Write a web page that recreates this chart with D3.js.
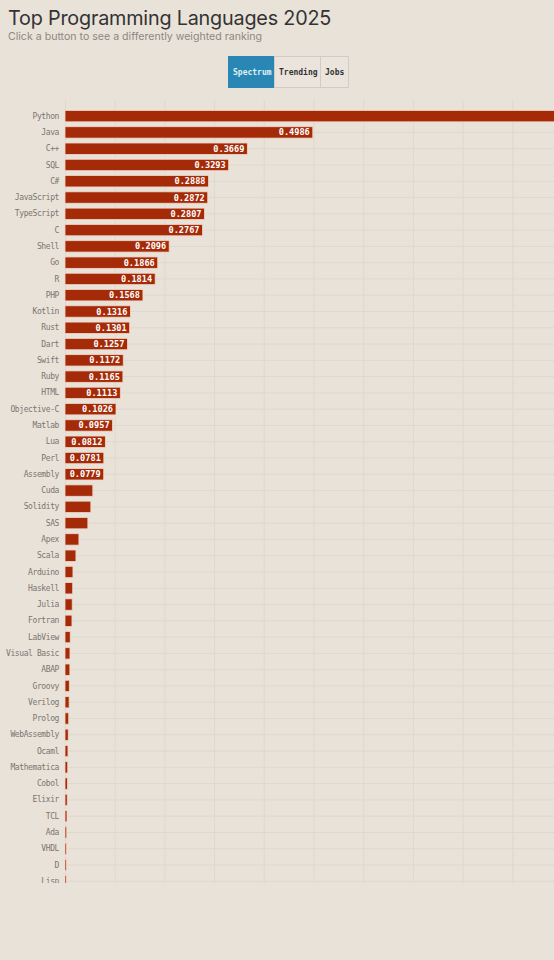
<!DOCTYPE html>
<html lang="en">
<head>
  <meta charset="utf-8"/>
  <title>Top Programming Languages 2025</title>
  <script src="https://cdn.jsdelivr.net/npm/d3@7/dist/d3.min.js"></script>
  <style>
    html, body {
      margin:0; padding:0;
      width:100%; height:100%;
      overflow:hidden;
      background:#e9e2d9;
      font-family:Inter, "Noto Sans", sans-serif;
    }
    h1 {
      position:absolute; left:8px; top:6px;
      margin:0;
      font:400 19.8px Inter, sans-serif;
      color:#333;
      letter-spacing:-0.2px;
    }
    .sub {
      position:absolute; left:8px; top:30px;
      font:400 10.6px Inter, sans-serif;
      color:#8c8782;
    }
    .buttons {
      position:absolute; left:228px; top:56px;
      display:flex;
    }
    .buttons button {
      height:32px;
      padding:0 4px;
      font:700 8px "DejaVu Sans Mono", monospace;
      color:#333;
      background:#ebe4dc;
      border:1px solid #d3ccc3;
      margin:0 -1px 0 0;
    }
    .buttons button.active {
      background:#2a87b5;
      border-color:#2a87b5;
      color:#dff2f0;
    }
    #chart {
      position:absolute; left:0; top:100px;
      width:600px; height:783px;
      overflow:hidden;
    }
    .grid line { stroke:#e0d8ce; stroke-width:1; }
    .grid path { display:none; }
    .ylab text { font:8px "DejaVu Sans Mono", monospace; letter-spacing:-0.4px; fill:#7a7570; }
    .ylab path, .ylab line { display:none; }
    .bar { fill:#a52a08; stroke:#f2d6c8; stroke-width:0.8; }
    .val { font:700 8.6px "DejaVu Sans Mono", monospace; fill:#fff; }
  </style>
</head>
<body>
  <h1>Top Programming Languages 2025</h1>
  <div class="sub">Click a button to see a differently weighted ranking</div>
  <div class="buttons">
    <button class="active" style="width:47px">Spectrum</button>
    <button style="width:47px">Trending</button>
    <button style="width:29px">Jobs</button>
  </div>
  <div id="chart"><svg></svg></div>

  <script>
  // Spectrum ranking
  const languages = [
    "Python","Java","C++","SQL","C#","JavaScript","TypeScript","C","Shell","Go",
    "R","PHP","Kotlin","Rust","Dart","Swift","Ruby","HTML","Objective-C","Matlab",
    "Lua","Perl","Assembly","Cuda","Solidity","SAS","Apex","Scala","Arduino","Haskell",
    "Julia","Fortran","LabView","Visual Basic","ABAP","Groovy","Verilog","Prolog","WebAssembly","Ocaml",
    "Mathematica","Cobol","Elixir","TCL","Ada","VHDL","D","Lisp"
  ];
  const scores = [
    1.0, 0.4986, 0.3669, 0.3293, 0.2888, 0.2872, 0.2807, 0.2767, 0.2096, 0.1866,
    0.1814, 0.1568, 0.1316, 0.1301, 0.1257, 0.1172, 0.1165, 0.1113, 0.1026, 0.0957,
    0.0812, 0.0781, 0.0779, 0.056, 0.052, 0.046, 0.028, 0.022, 0.016, 0.0155,
    0.0145, 0.014, 0.0105, 0.010, 0.0098, 0.0087, 0.0083, 0.0075, 0.0065, 0.006,
    0.0055, 0.005, 0.0045, 0.004, 0.0035, 0.0032, 0.003, 0.0028
  ];
  const xTicks = [0, 0.1, 0.2, 0.3, 0.4, 0.5, 0.6, 0.7, 0.8, 0.9, 1.0];

  const data = languages.map((name, i) => ({ name, value: scores[i] }));

  const margin = { top: 8, left: 65 };
  const step   = 16.28;
  const W      = 600;
  const H      = 900;
  const innerH = step * data.length;

  const svg = d3.select("svg").attr("width", W).attr("height", H);
  const g   = svg.append("g").attr("transform", `translate(${margin.left},${margin.top})`);

  const x = d3.scaleLinear().domain([0, 1]).range([0, 497]);
  const y = d3.scaleBand()
    .domain(languages)
    .range([0, innerH])
    .paddingInner(0.3)
    .paddingOuter(0.15);

  // grid
  g.append("g").attr("class", "grid")
    .attr("transform", `translate(0,${-margin.top})`)
    .call(d3.axisTop(x).tickValues(xTicks).tickSize(-H).tickFormat(""));
  g.append("g").attr("class", "grid")
    .call(d3.axisLeft(y).tickSize(-W).tickFormat(""));

  // labels
  g.append("g").attr("class", "ylab")
    .call(d3.axisLeft(y).tickSize(0).tickPadding(6));

  // bars
  g.selectAll("rect.bar")
    .data(data)
    .join("rect")
      .attr("class", "bar")
      .attr("x", 0)
      .attr("y", d => y(d.name))
      .attr("width", d => x(d.value))
      .attr("height", y.bandwidth());

  // value labels; the top bar's label sits past the right edge of the window
  g.selectAll("text.val")
    .data(data.filter(d => x(d.value) > 36 && d.value < 1))
    .join("text")
      .attr("class", "val")
      .attr("x", d => x(d.value) - 3)
      .attr("y", d => y(d.name) + y.bandwidth() / 2)
      .attr("dy", "0.35em")
      .attr("text-anchor", "end")
      .text(d => d.value.toFixed(4));
  </script>
</body>
</html>
